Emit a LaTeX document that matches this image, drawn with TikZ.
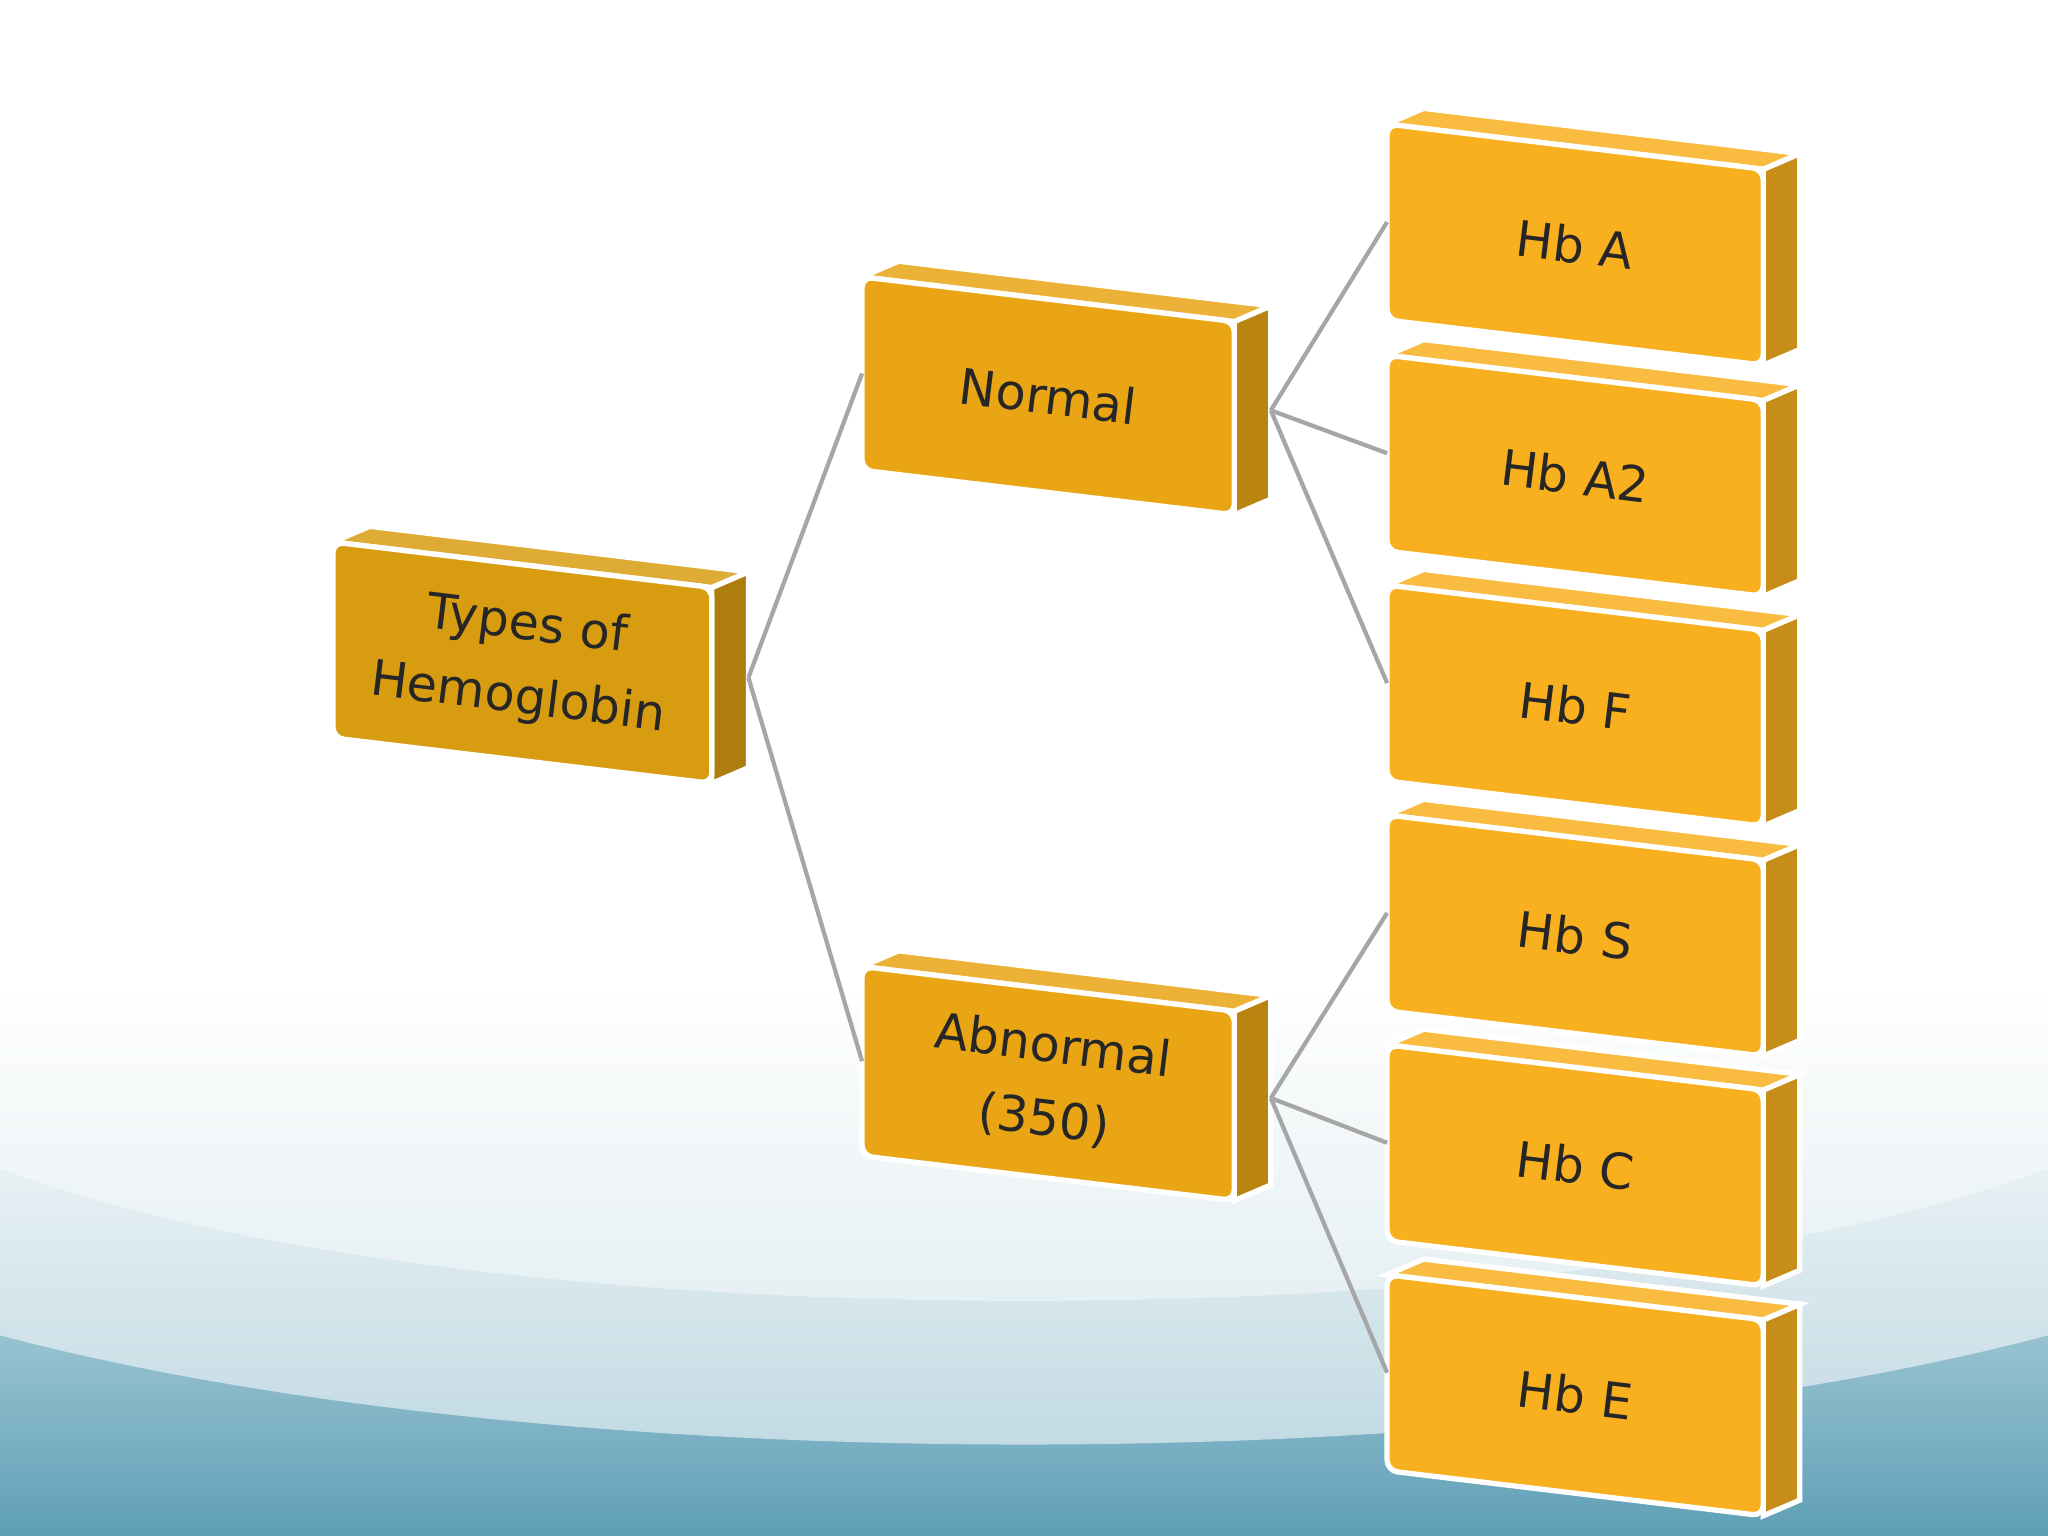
\documentclass[tikz,border=0pt]{standalone}
\usepackage{fontspec}
\setmainfont{DejaVu Sans}
\usetikzlibrary{calc}
\definecolor{bgteal}{HTML}{5E9FB6}
\definecolor{cA}{HTML}{D89C10}
\definecolor{cB}{HTML}{E9A514}
\definecolor{cC}{HTML}{F8B01E}
\tikzset{link/.style={draw=gray!70,line width=1.2pt},
  lbl/.style={font=\fontsize{14}{21}\selectfont,align=center,text=black!85,rotate=-7,inner sep=0pt}}
% name, x, ytop(down), w, h, colour, text
\newcommand\hbbox[7]{%
 \pgfmathsetmacro\Y{1176-#3}%
 \pgfmathsetmacro\Xr{#2+#4}%
 \pgfmathsetmacro\Yr{\Y-0.12*#4}%
 \fill[#6!80!black,draw=white,line width=1.5pt] (\Xr,\Yr) -- ++(28,12) -- ++(0,-#5) -- ++(-28,-12) -- cycle;
 \fill[#6!85!white,draw=white,line width=1.5pt] (#2,\Y) -- ++(28,12) -- (\Xr+28,\Yr+12) -- (\Xr,\Yr) -- cycle;
 \fill[#6,draw=white,line width=1.5pt,rounded corners=3pt] (#2,\Y) -- (\Xr,\Yr) -- (\Xr,\Yr-#5) -- (#2,\Y-#5) -- cycle;
 \coordinate (#1-l) at (#2,\Y-0.5*#5);
 \coordinate (#1-r) at (\Xr+28,\Yr-0.5*#5+6);
 \node[lbl] (#1) at (#2+0.5*#4,\Y-0.06*#4-0.5*#5) {#7};
}
\begin{document}
\begin{tikzpicture}[x=0.01306cm,y=0.01306cm]
\useasboundingbox (0,0) rectangle (1568,1176);
\fill[white] (0,0) rectangle (1568,1176);
\shade[top color=white,bottom color=bgteal] (0,0) rectangle (1568,420);
\begin{scope}
\clip (0,0) rectangle (1568,1176);
\fill[white,opacity=0.55] (784,320) ellipse (1050 and 250);
\fill[white,opacity=0.4] (784,380) ellipse (900 and 200);
\end{scope}
\hbbox{types}{255}{415}{290}{150}{cA}{Types of\\Hemoglobin}
\hbbox{normal}{660}{212}{285}{148}{cB}{Normal}
\hbbox{abn}{660}{740}{285}{145}{cB}{Abnormal\\(350)}
\hbbox{hba}{1062}{95}{288}{150}{cC}{Hb A}
\hbbox{hba2}{1062}{272}{288}{150}{cC}{Hb A2}
\hbbox{hbf}{1062}{448}{288}{150}{cC}{Hb F}
\hbbox{hbs}{1062}{624}{288}{150}{cC}{Hb S}
\hbbox{hbc}{1062}{800}{288}{150}{cC}{Hb C}
\hbbox{hbe}{1062}{976}{288}{150}{cC}{Hb E}
\draw[link] (types-r) -- (normal-l);
\draw[link] (types-r) -- (abn-l);
\foreach \c in {hba,hba2,hbf}{\draw[link] (normal-r) -- (\c-l);}
\foreach \c in {hbs,hbc,hbe}{\draw[link] (abn-r) -- (\c-l);}
\end{tikzpicture}
\end{document}
